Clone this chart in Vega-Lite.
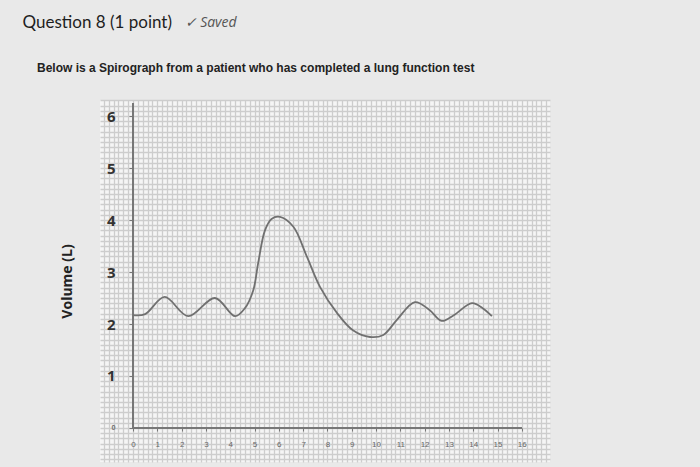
{
  "$schema": "https://vega.github.io/schema/vega-lite/v6.json",
  "width": 450,
  "height": 362,
  "autosize": "none",
  "padding": {"left": 100, "top": 100, "right": 150, "bottom": 5},
  "background": "#e9e9e9",
  "title": {
    "text": "Below is a Spirograph from a patient who has completed a lung function test",
    "anchor": "start",
    "frame": "group",
    "dx": -63,
    "offset": -62,
    "font": "Liberation Sans",
    "fontSize": 12,
    "fontWeight": "bold",
    "color": "#222222"
  },
  "data": {
    "values": [
      {"t": 0, "v": 2.17},
      {"t": 0.5, "v": 2.19},
      {"t": 1.3, "v": 2.52},
      {"t": 2.27, "v": 2.15},
      {"t": 3.37, "v": 2.5},
      {"t": 4.2, "v": 2.15},
      {"t": 4.6, "v": 2.3},
      {"t": 4.95, "v": 2.65},
      {"t": 5.15, "v": 3.17},
      {"t": 5.43, "v": 3.8},
      {"t": 5.7, "v": 4.02},
      {"t": 6.05, "v": 4.06},
      {"t": 6.6, "v": 3.87},
      {"t": 7.16, "v": 3.29},
      {"t": 7.7, "v": 2.71},
      {"t": 8.4, "v": 2.21},
      {"t": 9.05, "v": 1.88},
      {"t": 9.75, "v": 1.75},
      {"t": 10.3, "v": 1.79},
      {"t": 10.86, "v": 2.08},
      {"t": 11.6, "v": 2.42},
      {"t": 12.2, "v": 2.27},
      {"t": 12.7, "v": 2.06},
      {"t": 13.2, "v": 2.17},
      {"t": 13.95, "v": 2.4},
      {"t": 14.4, "v": 2.3},
      {"t": 14.77, "v": 2.15}
    ]
  },
  "resolve": {"axis": {"x": "independent", "y": "independent"}},
  "layer": [
    {
      "mark": {"type": "point", "opacity": 0},
      "encoding": {
        "x": {
          "field": "t",
          "type": "quantitative",
          "scale": {"domain": [-1.358, 17.16], "nice": false, "zero": false},
          "axis": {
            "orient": "top",
            "grid": true,
            "gridColor": "#cdcdcd",
            "gridWidth": 1.3,
            "tickCount": 93,
            "labels": false,
            "ticks": false,
            "domain": false,
            "title": "Question 8 (1 point)",
            "titleX": -78,
            "titleY": -78,
            "titleAlign": "left",
            "titleBaseline": "middle",
            "titleAngle": 0,
            "titleFont": "Lato",
            "titleFontSize": 17,
            "titleFontWeight": "normal",
            "titleColor": "#1e1e1e"
          }
        },
        "y": {
          "field": "v",
          "type": "quantitative",
          "scale": {"domain": [-0.654, 6.308], "nice": false, "zero": false},
          "axis": {
            "orient": "right",
            "grid": true,
            "gridColor": "#cdcdcd",
            "gridWidth": 1.3,
            "tickCount": 70,
            "labels": false,
            "ticks": false,
            "domain": false,
            "title": "\u2713 Saved",
            "titleX": -366,
            "titleY": -78,
            "titleAlign": "left",
            "titleBaseline": "middle",
            "titleAngle": 0,
            "titleFont": "Open Sans",
            "titleFontSize": 14,
            "titleFontStyle": "italic",
            "titleFontWeight": "normal",
            "titleColor": "#555555"
          }
        }
      }
    },
    {
      "mark": {"type": "rule", "color": "#777777", "strokeWidth": 1.5},
      "encoding": {
        "x": {"datum": 0, "type": "quantitative", "axis": null},
        "y": {"datum": 0, "type": "quantitative", "axis": null},
        "y2": {"datum": 6.25}
      }
    },
    {
      "mark": {"type": "rule", "color": "#777777", "strokeWidth": 1.5},
      "encoding": {
        "x": {"datum": 0, "type": "quantitative", "axis": null},
        "x2": {"datum": 16},
        "y": {"datum": 0, "type": "quantitative", "axis": null}
      }
    },
    {
      "mark": {"type": "line", "interpolate": "catmull-rom", "color": "#707070", "strokeWidth": 1.8},
      "encoding": {
        "x": {
          "field": "t",
          "type": "quantitative",
          "axis": {
            "orient": "bottom",
            "offset": -34,
            "values": [0, 1, 2, 3, 4, 5, 6, 7, 8, 9, 10, 11, 12, 13, 14, 15, 16],
            "grid": false,
            "domain": false,
            "tickSize": 3,
            "tickColor": "#777777",
            "labelFont": "Liberation Sans",
            "labelFontSize": 8,
            "labelColor": "#666666",
            "labelPadding": 9,
            "title": null
          }
        },
        "y": {
          "field": "v",
          "type": "quantitative",
          "axis": {
            "orient": "left",
            "offset": -33,
            "values": [0, 1, 2, 3, 4, 5, 6],
            "grid": false,
            "domain": false,
            "tickSize": 4,
            "tickColor": "#777777",
            "labelFont": "Open Sans",
            "labelFontSize": {"condition": {"test": "datum.value == 0", "value": 7}, "value": 15},
            "labelFontWeight": "bold",
            "labelColor": {"condition": {"test": "datum.value == 0", "value": "#777777"}, "value": "#333333"},
            "labelPadding": 14,
            "title": "Volume (L)",
            "titleFont": "Open Sans",
            "titleFontSize": 14,
            "titleFontWeight": "bold",
            "titleColor": "#222222",
            "titlePadding": 32
          }
        }
      }
    }
  ],
  "config": {
    "view": {"stroke": null, "fill": "#f5f5f5"}
  }
}
